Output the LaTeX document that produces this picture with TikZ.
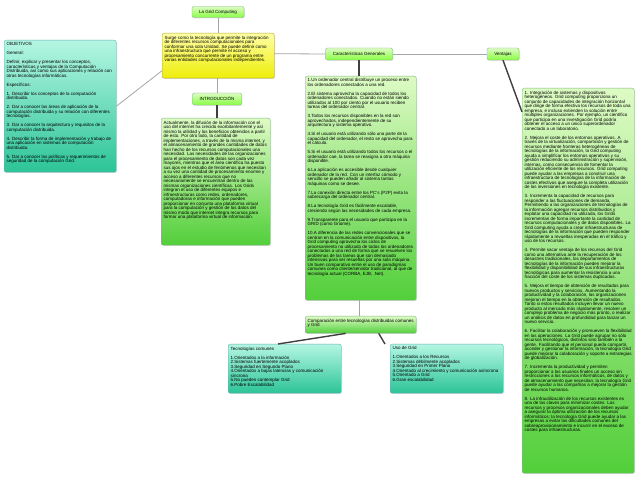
\documentclass[tikz,border=0pt]{standalone}
\usepackage{fontspec}
\setmainfont{Liberation Sans}
\usetikzlibrary{shadows}
\definecolor{gtop}{HTML}{DDFBC4}
\definecolor{gbot}{HTML}{52CF3A}
\definecolor{ttop}{HTML}{B4F6E2}
\definecolor{tbot}{HTML}{2CC497}
\newcommand{\bx}[3]{\parbox[c][#2pt][t]{#1pt}{\fontsize{4.5}{4.5}\selectfont\raggedright #3}}
\tikzset{
  gbox/.style={draw=green!45!black!50, rounded corners=2pt, top color=gtop, bottom color=gbot, inner sep=2.5pt, anchor=north west, drop shadow={opacity=0.25,shadow xshift=0.8pt,shadow yshift=-0.8pt}},
  tbox/.style={draw=teal!60, rounded corners=2pt, top color=ttop, bottom color=tbot, inner sep=2.5pt, anchor=north west, drop shadow={opacity=0.25,shadow xshift=0.8pt,shadow yshift=-0.8pt}},
  ybox/.style={draw=olive!70, rounded corners=2pt, top color=yellow!35, bottom color=yellow!85!olive!90, inner sep=2.5pt, anchor=north west, drop shadow={opacity=0.25,shadow xshift=0.8pt,shadow yshift=-0.8pt}},
  lbl/.style={draw=green!50!black!50, rounded corners=2pt, top color=gtop, bottom color=green!50!lime!75, inner sep=0pt, font=\fontsize{4.5}{5}\selectfont, anchor=center, drop shadow={opacity=0.25,shadow xshift=0.8pt,shadow yshift=-0.8pt}},
  cthin/.style={draw=gray!70, line width=0.8pt},
  cthick/.style={draw=black!75, line width=1.4pt},
}
\begin{document}
\begin{tikzpicture}[x=1pt,y=-1pt]
\useasboundingbox (0,0) rectangle (638,478);
\fill[white] (0,0) rectangle (638,478);
% label nodes
\node[lbl, minimum width=52pt, minimum height=11pt] (grid) at (218,12) {La Grid Computing};
\node[lbl, minimum width=49pt, minimum height=12pt] (intro) at (217,99) {INTRODUCCIÓN};
\node[lbl, minimum width=67pt, minimum height=12pt] (car) at (359,54) {Características Generales};
\node[lbl, minimum width=32pt, minimum height=12pt] (ven) at (503,54) {Ventajas};
% boxes
\node[ybox] (def) at (162,33) {\bx{107}{40}{Surge como la tecnología que permite la integración de diferentes recursos computacionales para conformar una sola Unidad. Se puede definir como una infraestructura que permite el acceso y procesamiento concurrente de un programa entre varias entidades computacionales independientes.}};
\node[tbox] (obj) at (4,40) {\bx{107}{127}{OBJETIVOS\par\vspace{4.5pt}General:\par\vspace{4.5pt}Definir, explicar y presentar los conceptos, características y ventajas de la Computación Distribuida, así como sus aplicaciones y relación con otras tecnologías informáticas.\par\vspace{4.5pt}Específicos:\par\vspace{4.5pt}1. Describir los conceptos de la computación distribuida.\par\vspace{4.5pt}2. Dar a conocer las áreas de aplicación de la computación distribuida y su relación con diferentes tecnologías.\par\vspace{4.5pt}3. Dar a conocer la arquitectura y requisitos de la computación distribuida.\par\vspace{4.5pt}4. Describir la forma de implementación y trabajo de una aplicación en sistemas de computación distribuida.\par\vspace{4.5pt}5. Dar a conocer las políticas y requerimientos de seguridad de la computación Grid.}};
\node[gbox] (itx) at (161,118) {\bx{104}{122}{Actualmente, la difusión de la información con el uso del internet ha crecido exorbitantemente y así mismo la utilidad y los beneficios obtenidos a partir de esto. Por otro lado, la cantidad de implementaciones, a través de la misma internet, y el almacenamiento de grandes cantidades de datos han hecho de los recursos computacionales una necesidad. Las necesidades de las organizaciones para el procesamiento de datos son cada vez mayores, mientras que el área científica ha puesto sus ojos en el estudio de fenómenos que necesitan a su vez una cantidad de procesamiento enorme y acceso a diferentes recursos que no necesariamente se encuentran dentro de las mismas organizaciones científicas. Los Grids integran el uso de diferentes equipos e infraestructuras como redes, ordenadores, computadoras e información que pueden proporcionar en conjunto una plataforma virtual para la computación y gestión de los datos del mismo modo que internet integra recursos para formar una plataforma virtual de información.}};
\node[gbox] (ctx) at (305,76) {\bx{106}{219}{1.Un ordenador central distribuye un proceso entre los ordenadores conectados a una red.\par\vspace{4.5pt}2.El sistema aprovecha la capacidad de todos los ordenadores conectados. Cuando no están siendo utilizados al 100 por ciento por el usuario reciben tareas del ordenador central.\par\vspace{4.5pt}3.Todos los recursos disponibles en la red son aprovechados, independientemente de su arquitectura y sistema operativo.\par\vspace{4.5pt}4.Si el usuario está utilizando sólo una parte de la capacidad del ordenador, el resto se aprovecha para el cálculo.\par\vspace{4.5pt}5.Si el usuario está utilizando todos los recursos o el ordenador cae, la tarea se reasigna a otra máquina disponible.\par\vspace{4.5pt}6.La aplicación es accesible desde cualquier ordenador de la red. Con un interfaz cómodo y sencillo se pueden añadir al sistema tantas máquinas como se desee.\par\vspace{4.5pt}7.La conexión directa entre los PC's (P2P) evita la sobrecarga del ordenador central.\par\vspace{4.5pt}8.La tecnología Grid es fácilmente escalable, creciendo según las necesidades de cada empresa.\par\vspace{4.5pt}9.Transparente para el usuario que participa en la GRID (como Gnome).\par\vspace{4.5pt}10.A diferencia de las redes convencionales que se centran en la comunicación entre dispositivos, la Grid computing aprovecha los ciclos de procesamiento no utilizado de todos los ordenadores conectados a una red de forma que se resuelven los problemas de las tareas que son demasiado intensivas para ser resueltas por una sola máquina.\par Un buen comparativo entre el uso de paradigmas comunes como cliente/servidor tradicional, al que de tecnología actual (CORBA, EJB, .Net).}};
\node[gbox] (vtx) at (522,88) {\bx{107}{380}{1. Integración de sistemas y dispositivos heterogéneos. Grid computing proporciona un conjunto de capacidades de integración horizontal que dirige de forma efectiva los recursos de toda una empresa, e incluso extienden la solución entre múltiples organizaciones. Por ejemplo, un científico que participa en una investigación Grid podría obtener el acceso a un único superordenador conectado a un laboratorio.\par\vspace{4.5pt}2. Mejora el coste de los entornos operativos. A través de la virtualización, compartición y gestión de recursos mediante fronteras heterogéneas de tecnologías de la información, la Grid computing ayuda a simplificar los entornos operativos y su gestión reduciendo su administración y supervisión, internas, como consecuencia de fomentar la utilización eficiente de los recursos. Grid computing puede ayudar a las empresas a construir una infraestructura de tecnologías de la información de costes efectivos que asegure la completa utilización de las inversiones en tecnología existente.\par\vspace{4.5pt}3. Incrementa la capacidad de recursos para responder a las fluctuaciones de demanda. Permitiendo a las organizaciones de tecnologías de la información agregar recursos distribuidos y explotar una capacidad no utilizada, los Grids incrementan de forma importante la cantidad de recursos computacionales y de datos disponibles. La Grid computing ayuda a crear infraestructuras de tecnologías de la información que pueden responder rápidamente a revueltas inesperadas en el tráfico y uso de los recursos.\par\vspace{4.5pt}4. Permite sacar ventaja de los recursos del Grid como una alternativa ante la recuperación de los desastres tradicionales, los departamentos de tecnologías de la información pueden mejorar la flexibilidad y disponibilidad de sus infraestructuras tecnológicas para aumentar la resistencia a una fracción del coste de los sistemas duplicados.\par\vspace{4.5pt}5. Mejora el tiempo de obtención de resultados para nuevos productos y servicios. Aumentando la productividad y la colaboración, las organizaciones mejoran el tiempo en la obtención de resultados. Tanto si estos resultados incluyen llevar un nuevo producto al mercado más rápidamente, resolver un complejo problema de negocio más pronto, o realizar un análisis de datos en profundidad para lanzar un nuevo servicio.\par\vspace{4.5pt}6. Facilitar la colaboración y promueven la flexibilidad en las operaciones. La Grid puede agrupar no sólo recursos tecnológicos, distintos sino también a la gente. Facilitando que el personal pueda compartir, acceder y gestionar la información, la tecnología Grid puede mejorar la colaboración y soporte a estrategias de globalización.\par\vspace{4.5pt}7. Incrementa la productividad y permiten proporcionar a los usuarios finales un acceso sin restricciones a los recursos informáticos, de datos y de almacenamiento que necesitan, la tecnología Grid puede ayudar a las compañías a mejorar la gestión de recursos humanos.\par\vspace{4.5pt}8. La infrautilización de los recursos existentes es una de las claves para minimizar costes. Los recursos y procesos organizacionales deben ayudar a asegurar la óptima utilización de los recursos informáticos; la tecnología Grid puede ayudar a las empresas a evitar las dificultades comunes del sobreaprovisionamiento e incurrir en el exceso de costes para infraestructuras.}};
\node[gbox] (cmp) at (305,316) {\bx{106}{12}{Comparación entre tecnologías distribuidas comunes y Grid}};
\node[tbox] (tc) at (228,344) {\bx{108}{44}{Tecnologías comunes\par\vspace{4.5pt}1.Orientados a la información\par 2.Sistemas fuertemente acoplados\par 3.Seguridad en Segundo Plano\par 4.Orientados a bajas latencias y comunicación síncrona\par 5.No pueden contemplar Grid\par 6.Pobre Escalabilidad}};
\node[tbox] (ug) at (390,344) {\bx{108}{44}{Uso de Grid\par\vspace{4.5pt}1.Orientados a los Recursos\par 2.Sistemas débilmente acoplados\par 3.Seguridad en Primer Plano\par 4.Orientado al crecimiento y comunicación asíncrona\par 5.Orientado a Grid\par 6.Gran escalabilidad}};
% connectors
\draw[cthin] (grid.south) -- (grid.south |- def.north);
\draw[cthin] (intro.north |- def.south) -- (intro.north);
\draw[cthick] (intro.south) -- (intro.south |- itx.north);
\draw[cthin] ([yshift=-15pt]def.west) -- (obj.east);
\draw[cthin] ([yshift=2pt]def.east) -- (car.west);
\draw[cthin] (car.east) -- (ven.west);
\draw[cthick] (car.south) -- (car.south |- ctx.north);
\draw[cthick] (ven.south) -- ([yshift=-24pt]vtx.north west);
\draw[cthin] (car.south |- ctx.south) -- (car.south |- cmp.north);
\draw[cthick] ([xshift=-15pt]cmp.south) -- ([xshift=50pt]tc.north west);
\draw[cthick] ([xshift=18pt]cmp.south) -- ([xshift=-5pt]ug.north west);
\end{tikzpicture}
\end{document}
